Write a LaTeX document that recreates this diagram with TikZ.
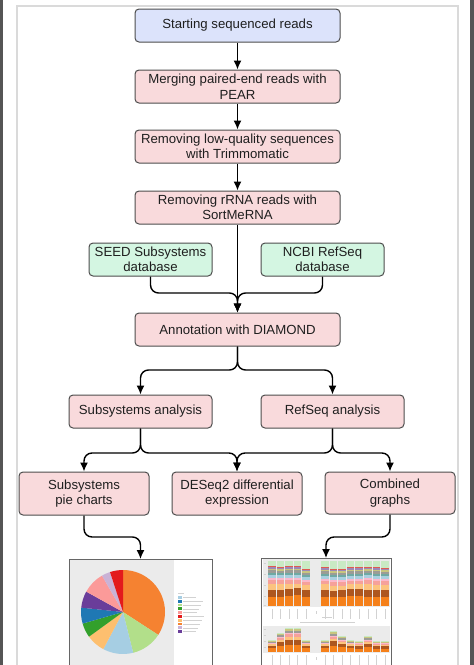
\documentclass[tikz,border=0pt]{standalone}
\usepackage{fontspec}
\setmainfont{Liberation Sans}
\usetikzlibrary{arrows.meta}
\definecolor{boxline}{HTML}{4D4D4D}
\definecolor{bluefill}{HTML}{DCE3FB}
\definecolor{pinkfill}{HTML}{F9DADC}
\definecolor{greenfill}{HTML}{D4F6E2}
\definecolor{darkbar}{HTML}{555555}
\definecolor{framegray}{HTML}{DADADA}
\definecolor{panelgray}{HTML}{EBEBEB}
\definecolor{imgframe}{HTML}{666666}
% pie colours
\definecolor{pOrange}{HTML}{F58231}
\definecolor{pLGreen}{HTML}{B2DF8A}
\definecolor{pLBlue}{HTML}{A6CEE3}
\definecolor{pLOrange}{HTML}{FDBF6F}
\definecolor{pGreen}{HTML}{33A02C}
\definecolor{pBlue}{HTML}{1F78B4}
\definecolor{pPurple}{HTML}{6A3D9A}
\definecolor{pPink}{HTML}{FB9A99}
\definecolor{pLav}{HTML}{CAB2D6}
\definecolor{pRed}{HTML}{E31A1C}
% bar colours
\definecolor{bOrange}{HTML}{F5801A}
\definecolor{bBrown}{HTML}{AD561F}
\definecolor{bLOrange}{HTML}{FCC37E}
\definecolor{bSalmon}{HTML}{F6A19A}
\definecolor{bPink}{HTML}{FBB8CC}
\definecolor{bLBlue}{HTML}{A9CFE0}
\definecolor{bTeal}{HTML}{6FA9A3}
\definecolor{bGray}{HTML}{9C9C96}
\definecolor{bKhaki}{HTML}{C8C67E}
\definecolor{bPurple}{HTML}{9C88B8}
\definecolor{bRed}{HTML}{E05A52}
\definecolor{bGreen}{HTML}{C9EAC4}
\newcommand\stackbar[4]{%
  \fill[bGreen] (#1,#2) rectangle ({#1+7.6},{#2-#3});
  \xdef\cury{#2}%
  \foreach \cc/\ff in {#4}{%
    \pgfmathsetmacro\ny{\cury-\ff*#3}%
    \fill[\cc] (#1,\cury) rectangle ({#1+7.6},\ny);
    \xdef\cury{\ny}%
  }%
}
\begin{document}
\begin{tikzpicture}[x=1pt,y=-1pt,
  box/.style={draw=boxline,line width=1pt,rounded corners=4pt,align=center,
    inner sep=0pt,font=\fontsize{13.2}{15.5}\selectfont,text=black!88},
  wide/.style={box,minimum width=205pt,minimum height=33pt,fill=pinkfill},
  dbox/.style={box,minimum width=123pt,minimum height=33pt,fill=greenfill},
  mbox/.style={box,minimum width=143pt,minimum height=33pt,fill=pinkfill},
  sbox/.style={box,minimum width=130pt,minimum height=43pt,fill=pinkfill},
  flow/.style={line width=1.4pt,-{Latex[length=9pt,width=8pt]},rounded corners=8pt},
  tiny/.style={gray!35,line width=0.35pt}]
\useasboundingbox (0,0) rectangle (474,665);
\fill[white] (0,0) rectangle (474,665);
% page frame
\fill[darkbar] (0,0) rectangle (3,665);
\fill[darkbar] (469.5,0) rectangle (474,665);
\draw[framegray,line width=1.5pt] (17,670) -- (17,6) -- (458,6) -- (458,670);

% nodes
\node[wide,fill=bluefill] (start) at (237.5,25.5) {Starting sequenced reads};
\node[wide] (merge) at (237.5,86.5) {Merging paired-end reads with\\PEAR};
\node[wide] (trim) at (237.5,146.5) {Removing low-quality sequences\\with Trimmomatic};
\node[wide] (rrna) at (237.5,207.5) {Removing rRNA reads with\\SortMeRNA};
\node[dbox] (seed) at (150.5,259.5) {SEED Subsystems\\database};
\node[dbox] (ncbi) at (322.5,259.5) {NCBI RefSeq\\database};
\node[wide] (ann) at (237.5,329.5) {Annotation with DIAMOND};
\node[mbox] (sub) at (140.5,411.5) {Subsystems analysis};
\node[mbox] (ref) at (332.5,411.5) {RefSeq analysis};
\node[sbox] (piech) at (84,493.5) {Subsystems\\pie charts};
\node[sbox] (deseq) at (237,493.5) {DESeq2 differential\\expression};
\node[sbox,minimum height=42pt] (comb) at (390,493) {Combined\\graphs};
\coordinate (pieimg) at (140.5,559);
\coordinate (barimg) at (326,558);

% pie chart picture
\fill[panelgray] (70,560) rectangle (174,670);
\begin{scope}[shift={(123,612)},y=1pt]
  \fill[pOrange] (0,0) -- (90:42) arc[start angle=90,end angle=-33,radius=42] -- cycle;
  \fill[pLGreen] (0,0) -- (-33:42) arc[start angle=-33,end angle=-76,radius=42] -- cycle;
  \fill[pLBlue] (0,0) -- (-76:42) arc[start angle=-76,end angle=-118,radius=42] -- cycle;
  \fill[pLOrange] (0,0) -- (-118:42) arc[start angle=-118,end angle=-144,radius=42] -- cycle;
  \fill[pGreen] (0,0) -- (-144:42) arc[start angle=-144,end angle=-164,radius=42] -- cycle;
  \fill[pBlue] (0,0) -- (-164:42) arc[start angle=-164,end angle=-186,radius=42] -- cycle;
  \fill[pPurple] (0,0) -- (-186:42) arc[start angle=-186,end angle=-209,radius=42] -- cycle;
  \fill[pPink] (0,0) -- (-209:42) arc[start angle=-209,end angle=-240,radius=42] -- cycle;
  \fill[pLav] (0,0) -- (-240:42) arc[start angle=-240,end angle=-252,radius=42] -- cycle;
  \fill[pRed] (0,0) -- (-252:42) arc[start angle=-252,end angle=-270,radius=42] -- cycle;
\end{scope}
\draw[tiny] (178,593) -- (184,593);
\foreach \cc [count=\k from 0] in {pLBlue,pBlue,pLGreen,pGreen,pPink,pRed,pLOrange,pOrange,pLav,pPurple}{
  \fill[\cc] (178,{596+\k*3.8}) rectangle (181.5,{598.8+\k*3.8});
  \draw[tiny] (183,{597.4+\k*3.8}) -- ({196+mod(\k*7,9)},{597.4+\k*3.8});
}
\draw[imgframe,line width=1pt] (69,670) -- (69,559) -- (212,559) -- (212,670);

% bar chart picture
\fill[panelgray] (263,559) rectangle (390,607);
\fill[panelgray] (263,626) rectangle (390,653);
\foreach \i/\o/\b/\l/\s in {0/.20/.16/.12/.10,1/.21/.15/.12/.09,2/.22/.15/.11/.10,3/.25/.15/.10/.08,4/.21/.15/.10/.07}{
  \stackbar{268+8.6*\i}{606}{45}{bOrange/\o,bBrown/\b,bLOrange/\l,bSalmon/\s,bPink/.05,bLBlue/.06,bTeal/.05,bGray/.05,bKhaki/.04,bPurple/.03,bRed/.02}
  \draw[tiny] ({271.8+8.6*\i},609) -- ({271.8+8.6*\i},619);
}
\foreach \i/\o/\b/\l/\s in {0/.20/.16/.12/.08,1/.19/.15/.10/.09,2/.19/.16/.10/.08,3/.22/.16/.11/.07,4/.23/.15/.10/.08,5/.19/.17/.12/.09,6/.19/.16/.11/.10,7/.19/.16/.12/.08}{
  \stackbar{321+8.6*\i}{606}{45}{bOrange/\o,bBrown/\b,bLOrange/\l,bSalmon/\s,bPink/.05,bLBlue/.06,bTeal/.05,bGray/.05,bKhaki/.04,bPurple/.03,bRed/.02}
  \draw[tiny] ({324.8+8.6*\i},609) -- ({324.8+8.6*\i},619);
}
\draw[tiny] (316,611) -- (316,614);
\foreach \yy in {563,574,585,596,605} \draw[tiny] (263.5,\yy) -- (266,\yy);
\draw[tiny] (322,617.5) -- (332,617.5);
\draw[tiny] (300,622) -- (355,622);
\foreach \i/\h in {0/12,1/19,2/24,3/24,4/12}{
  \stackbar{268+8.6*\i}{652}{\h}{bOrange/.30,bBrown/.22,bLOrange/.12,bSalmon/.10,bPink/.04,bGray/.10,bKhaki/.06}
  \draw[tiny] ({271.8+8.6*\i},655) -- ({271.8+8.6*\i},666);
}
\foreach \i/\h in {0/12,1/21,2/16,3/12,4/11,5/16,6/11,7/11}{
  \stackbar{321+8.6*\i}{652}{\h}{bOrange/.30,bBrown/.22,bLOrange/.12,bSalmon/.10,bPink/.04,bGray/.10,bKhaki/.06}
  \draw[tiny] ({324.8+8.6*\i},655) -- ({324.8+8.6*\i},666);
}
\draw[tiny] (316,657) -- (316,660);
\foreach \yy in {629,635,641,647} \draw[tiny] (263.5,\yy) -- (266,\yy);
\draw[imgframe,line width=1pt] (261,670) -- (261,558) -- (391,558) -- (391,670);

% connectors
\draw[flow] (start) -- (merge);
\draw[flow] (merge) -- (trim);
\draw[flow] (trim) -- (rrna);
\draw[flow] (rrna) -- (ann);
\draw[flow] (seed.south) -- (150.5,293) -- (237.5,293) -- (ann.north);
\draw[flow] (ncbi.south) -- (322.5,293) -- (237.5,293) -- (ann.north);
\draw[flow] (ann.south) -- (237.5,370) -- (140.5,370) -- (sub.north);
\draw[flow] (ann.south) -- (237.5,370) -- (332.5,370) -- (ref.north);
\draw[flow] (sub.south) -- (140.5,453) -- (84,453) -- (piech.north);
\draw[flow] (sub.south) -- (140.5,453) -- (237,453) -- (deseq.north);
\draw[flow] (ref.south) -- (332.5,453) -- (237,453) -- (deseq.north);
\draw[flow] (ref.south) -- (332.5,453) -- (390,453) -- (comb.north);
\draw[flow] (piech.south) -- (84,537) -- (140.5,537) -- (pieimg);
\draw[flow] (comb.south) -- (390,537) -- (326,537) -- (barimg);
\end{tikzpicture}
\end{document}
